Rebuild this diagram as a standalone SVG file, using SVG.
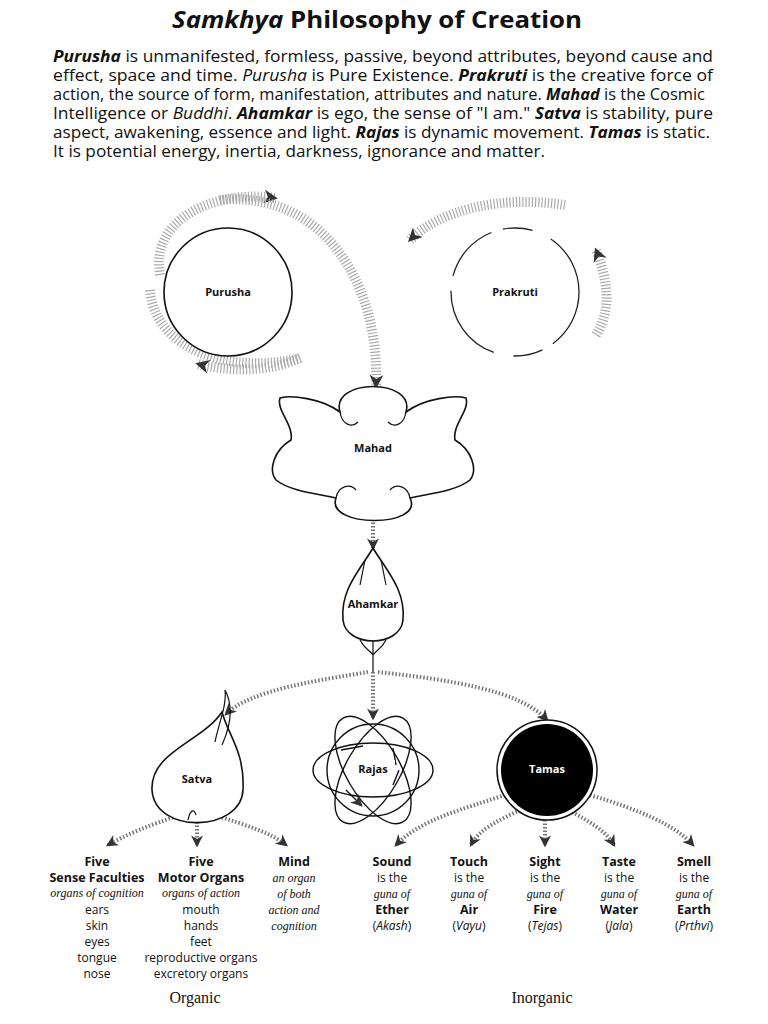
<svg xmlns="http://www.w3.org/2000/svg" width="768" height="1024" viewBox="0 0 768 1024">
<style>
text{font-family:"Open Sans","Liberation Sans",sans-serif;fill:#111}
.t{font-size:24px;font-weight:bold}
.p{font-size:15.5px}
.n{font-size:11px;font-weight:bold;text-anchor:middle}
.h{font-size:12.5px;font-weight:bold;text-anchor:middle}
.l{font-size:12px;text-anchor:middle}
.i{font-size:12px;font-style:italic;text-anchor:middle;font-family:"Liberation Serif",serif}
.sh{fill:#fff;stroke:#111;stroke-width:1.6}
.sw{fill:none;stroke:#aaa;stroke-width:10;stroke-dasharray:1.2 2}
.dc{fill:none;stroke:#777;stroke-width:4;stroke-dasharray:1.5 2}
</style>
<defs>
<marker id="a" viewBox="0 0 10 10" refX="8" refY="5" markerUnits="userSpaceOnUse" markerWidth="20" markerHeight="14" orient="auto"><path d="M0,0 L10,5 L0,10 L3,5 Z" fill="#333"/></marker>
<marker id="b" viewBox="0 0 10 10" refX="8" refY="5" markerUnits="userSpaceOnUse" markerWidth="12" markerHeight="12" orient="auto"><path d="M0,0 L10,5 L0,10 L3,5 Z" fill="#333"/></marker>
</defs>
<rect width="768" height="1024" fill="#fff"/>
<text class="t" x="172" y="28" textLength="410" lengthAdjust="spacingAndGlyphs"><tspan font-style="italic">Samkhya</tspan> Philosophy of Creation</text>
<g class="p">
<text x="53" y="62" textLength="660" lengthAdjust="spacingAndGlyphs"><tspan font-weight="bold" font-style="italic">Purusha</tspan> is unmanifested, formless, passive, beyond attributes, beyond cause and</text>
<text x="53" y="81" textLength="660" lengthAdjust="spacingAndGlyphs">effect, space and time. <tspan font-style="italic">Purusha</tspan> is Pure Existence. <tspan font-weight="bold" font-style="italic">Prakruti</tspan> is the creative force of</text>
<text x="53" y="100" textLength="652" lengthAdjust="spacingAndGlyphs">action, the source of form, manifestation, attributes and nature. <tspan font-weight="bold" font-style="italic">Mahad</tspan> is the Cosmic</text>
<text x="53" y="119" textLength="660" lengthAdjust="spacingAndGlyphs">Intelligence or <tspan font-style="italic">Buddhi</tspan>. <tspan font-weight="bold" font-style="italic">Ahamkar</tspan> is ego, the sense of "I am." <tspan font-weight="bold" font-style="italic">Satva</tspan> is stability, pure</text>
<text x="53" y="138" textLength="657" lengthAdjust="spacingAndGlyphs">aspect, awakening, essence and light. <tspan font-weight="bold" font-style="italic">Rajas</tspan> is dynamic movement. <tspan font-weight="bold" font-style="italic">Tamas</tspan> is static.</text>
<text x="53" y="157" textLength="492" lengthAdjust="spacingAndGlyphs">It is potential energy, inertia, darkness, ignorance and matter.</text>
</g>
<g id="connectors">
<path class="sw" d="M160,275 C150,215 220,190 275,198" marker-end="url(#a)"/>
<path class="sw" d="M150,290 C155,350 230,375 300,358"/>
<path class="sw" d="M300,358 C270,372 230,372 198,364" marker-end="url(#a)"/>
<path class="sw" d="M220,200 C320,190 380,280 376,386" marker-end="url(#a)"/>
<path class="sw" d="M565,205 C500,195 440,210 410,240" marker-end="url(#a)"/>
<path class="sw" d="M596,335 C612,310 608,280 596,250" marker-end="url(#a)"/>
<path class="dc" d="M373,512 L373,548" marker-end="url(#b)"/>
<path class="dc" d="M368,672 C320,680 250,690 226,714" marker-end="url(#b)"/>
<path class="dc" d="M373,672 L373,718" marker-end="url(#b)"/>
<path class="dc" d="M378,672 C450,680 520,690 547,720" marker-end="url(#b)"/>
<path class="dc" d="M180,815 C150,825 125,835 108,845" marker-end="url(#b)"/>
<path class="dc" d="M197,822 L197,845" marker-end="url(#b)"/>
<path class="dc" d="M215,815 C245,825 270,832 286,845" marker-end="url(#b)"/>
<path class="dc" d="M505,795 C460,810 420,820 396,845" marker-end="url(#b)"/>
<path class="dc" d="M520,810 C500,820 480,828 471,845" marker-end="url(#b)"/>
<path class="dc" d="M545,820 L545,845" marker-end="url(#b)"/>
<path class="dc" d="M572,812 C590,822 605,830 614,845" marker-end="url(#b)"/>
<path class="dc" d="M590,795 C640,810 675,825 693,845" marker-end="url(#b)"/>
</g>
<g id="purusha"><circle class="sh" cx="228" cy="292" r="64"/><text class="n" x="228" y="296">Purusha</text></g>
<g id="prakruti"><circle cx="515" cy="292" r="64" fill="none" stroke="#222" stroke-width="1.3" stroke-dasharray="60 12 30 20 80 15"/><text class="n" x="515" y="296">Prakruti</text></g>
<g id="mahad">
<path class="sh" d="M340,412 C330,378 416,378 406,412 C425,398 455,395 466,398 C470,410 452,425 455,440 C472,450 478,470 470,480 C455,492 425,494 410,498 C425,528 325,528 336,498 C321,494 291,492 276,480 C268,470 274,450 291,440 C294,425 276,410 280,398 C291,395 321,398 340,412 Z"/>
<path d="M340,412 C342,425 352,428 358,422 M406,412 C404,425 394,428 388,422 M336,498 C338,486 350,483 356,490 M410,498 C408,486 396,483 390,490" fill="none" stroke="#111" stroke-width="1.2"/>
<text class="n" x="373" y="452">Mahad</text>
</g>
<g id="ahamkar">
<path class="sh" d="M373,548 C360,570 340,590 343,620 C346,648 400,648 403,620 C406,590 386,570 373,548 Z"/>
<path d="M365,560 L360,585 M381,560 L386,585 M373,640 L373,672 M360,640 C365,650 370,650 373,655 M386,640 C381,650 376,650 373,655" fill="none" stroke="#111" stroke-width="1.2"/>
<text class="n" x="373" y="608">Ahamkar</text>
</g>
<g id="satva">
<path class="sh" d="M222,712 C228,735 245,752 243,790 C241,832 155,835 152,790 C150,752 202,742 222,712 Z"/>
<path d="M215,742 C219,722 227,705 225,690 C233,705 231,725 222,745 M188,820 C190,810 194,808 196,815" fill="none" stroke="#111" stroke-width="1.2"/>
<text class="n" x="197" y="783">Satva</text>
</g>
<g id="rajas" fill="none" stroke="#111" stroke-width="1.4">
<circle cx="373" cy="770" r="46"/>
<ellipse cx="373" cy="770" rx="60" ry="27"/>
<ellipse cx="373" cy="770" rx="60" ry="27" transform="rotate(60 373 770)"/>
<ellipse cx="373" cy="770" rx="60" ry="27" transform="rotate(-60 373 770)"/>
<path d="M341,750 L363,746 M393,748 L396,765 M399,770 L393,785 M346,790 L361,805" marker-end="url(#b)"/>
<rect x="351" y="760" width="44" height="16" fill="#fff" stroke="none"/>
<text class="n" x="373" y="773" stroke="none">Rajas</text>
</g>
<g id="tamas">
<circle cx="547" cy="770" r="50" fill="#fff" stroke="#111" stroke-width="1.5"/>
<circle cx="547" cy="770" r="46" fill="#000"/>
<text class="n" x="547" y="773" style="fill:#fff">Tamas</text>
</g>
<g id="labels">
<text class="h" x="97" y="866">Five</text><text class="h" x="97" y="882">Sense Faculties</text>
<text class="i" x="97" y="897">organs of cognition</text>
<text class="l" x="97" y="914">ears</text><text class="l" x="97" y="930">skin</text><text class="l" x="97" y="946">eyes</text><text class="l" x="97" y="962">tongue</text><text class="l" x="97" y="978">nose</text>
<text class="h" x="201" y="866">Five</text><text class="h" x="201" y="882">Motor Organs</text>
<text class="i" x="201" y="897">organs of action</text>
<text class="l" x="201" y="914">mouth</text><text class="l" x="201" y="930">hands</text><text class="l" x="201" y="946">feet</text><text class="l" x="201" y="962">reproductive organs</text><text class="l" x="201" y="978">excretory organs</text>
<text class="h" x="294" y="866">Mind</text>
<text class="i" x="294" y="882">an organ</text><text class="i" x="294" y="898">of both</text><text class="i" x="294" y="914">action and</text><text class="i" x="294" y="930">cognition</text>
<text class="h" x="392" y="866">Sound</text><text class="l" x="392" y="882">is the</text><text class="i" x="392" y="898">guna of</text><text class="h" x="392" y="914">Ether</text><text class="l" x="392" y="930">(<tspan font-style="italic">Akash</tspan>)</text>
<text class="h" x="469" y="866">Touch</text><text class="l" x="469" y="882">is the</text><text class="i" x="469" y="898">guna of</text><text class="h" x="469" y="914">Air</text><text class="l" x="469" y="930">(<tspan font-style="italic">Vayu</tspan>)</text>
<text class="h" x="545" y="866">Sight</text><text class="l" x="545" y="882">is the</text><text class="i" x="545" y="898">guna of</text><text class="h" x="545" y="914">Fire</text><text class="l" x="545" y="930">(<tspan font-style="italic">Tejas</tspan>)</text>
<text class="h" x="619" y="866">Taste</text><text class="l" x="619" y="882">is the</text><text class="i" x="619" y="898">guna of</text><text class="h" x="619" y="914">Water</text><text class="l" x="619" y="930">(<tspan font-style="italic">Jala</tspan>)</text>
<text class="h" x="694" y="866">Smell</text><text class="l" x="694" y="882">is the</text><text class="i" x="694" y="898">guna of</text><text class="h" x="694" y="914">Earth</text><text class="l" x="694" y="930">(<tspan font-style="italic">Prthvi</tspan>)</text>
<text x="195" y="1003" style="font-family:'Liberation Serif',serif;font-size:16px;text-anchor:middle">Organic</text>
<text x="542" y="1003" style="font-family:'Liberation Serif',serif;font-size:16px;text-anchor:middle">Inorganic</text>
</g>
</svg>
